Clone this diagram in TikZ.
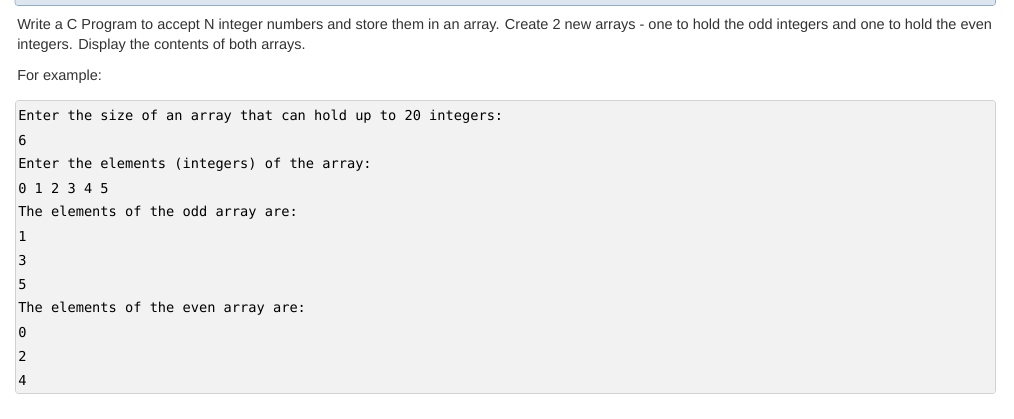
\documentclass[tikz,border=0pt]{standalone}
\usepackage{fontspec}
\setmainfont{Liberation Sans}
\newfontfamily\codefont{DejaVu Sans Mono}
\begin{document}
\begin{tikzpicture}[x=0.75pt,y=-0.75pt,
  body/.style={anchor=west,inner sep=0,text=black!80,font=\fontsize{10.88pt}{12pt}\selectfont},
  code/.style={anchor=west,inner sep=0,text=black,font=\codefont\fontsize{10.24pt}{12pt}\selectfont}]
\useasboundingbox (0,0) rectangle (1014,418);
\fill[white] (0,0) rectangle (1014,418);
\draw[fill={rgb,255:red,221;green,229;blue,239},draw={rgb,255:red,150;green,170;blue,195},rounded corners=2pt] (15,-10) rectangle (995.5,5.5);
\node[body] (p1) at (17,25.5) {Write a C Program to accept N integer numbers and store them in an array. Create 2 new arrays - one to hold the odd integers and one to hold the even};
\node[body] (p2) at (17,45.5) {integers. Display the contents of both arrays.};
\node[body] (p3) at (17,76.5) {For example:};
\draw[fill={rgb,255:red,242;green,242;blue,242},draw={rgb,255:red,210;green,210;blue,210},rounded corners=2pt] (15.5,100.5) rectangle (995.5,393.5);
\foreach \t [count=\i from 0] in {Enter the size of an array that can hold up to 20 integers:,6,Enter the elements (integers) of the array:,0 1 2 3 4 5,The elements of the odd array are:,1,3,5,The elements of the even array are:,0,2,4}
  \node[code] (c\i) at (18,116.5+24*\i) {\t};
\end{tikzpicture}
\end{document}
